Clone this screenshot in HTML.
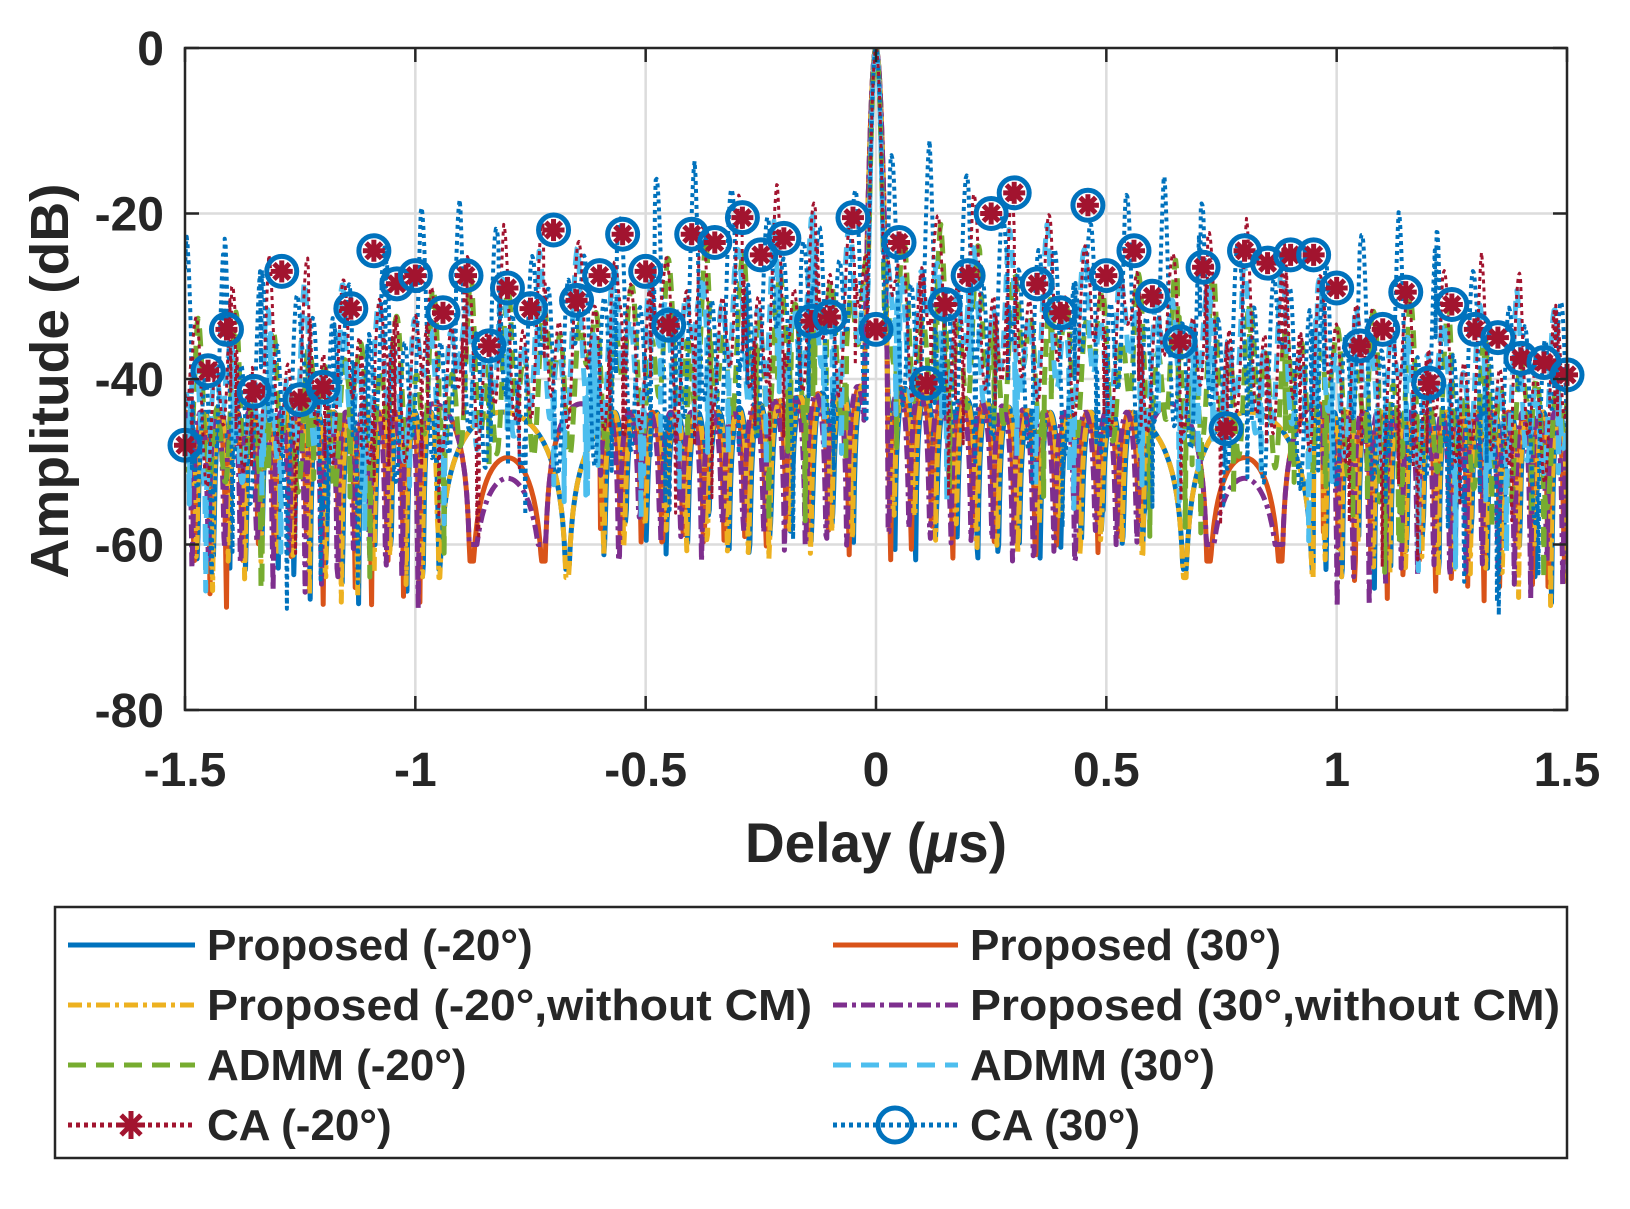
<!DOCTYPE html>
<html><head><meta charset="utf-8"><style>
html,body{margin:0;padding:0;background:#fff;}
svg text{font-family:"Liberation Sans",Arial,sans-serif;font-weight:bold;fill:#262626;}
</style></head><body>
<svg id="s" width="1630" height="1204" viewBox="0 0 1630 1204" xmlns="http://www.w3.org/2000/svg">
<rect width="1630" height="1204" fill="#fff"/>
<g id="grid" stroke="#dcdcdc" stroke-width="2.5"></g>
<defs><clipPath id="cp"><rect x="185" y="48" width="1382" height="662"/></clipPath></defs>
<g id="data" clip-path="url(#cp)"></g>
<g id="mk"></g>
<rect x="185" y="48" width="1382" height="662" fill="none" stroke="#262626" stroke-width="2.5"/>
<g id="ticks"></g>
<text x="876" y="862" font-size="56" text-anchor="middle" textLength="262" lengthAdjust="spacingAndGlyphs">Delay (<tspan font-style="italic">μ</tspan>s)</text>
<text transform="translate(68,381) rotate(-90)" font-size="54" text-anchor="middle" textLength="395" lengthAdjust="spacingAndGlyphs">Amplitude (dB)</text>
<rect x="55" y="907" width="1512" height="251" fill="#fff" stroke="#262626" stroke-width="2.5"/>
<g font-size="44">
<line x1="68" y1="945" x2="195" y2="945" stroke="#0072BD" stroke-width="5"/>
<text x="207" y="960">Proposed (-20°)</text>
<line x1="833" y1="945" x2="958" y2="945" stroke="#D95319" stroke-width="5"/>
<text x="970" y="960">Proposed (30°)</text>
<line x1="68" y1="1005" x2="195" y2="1005" stroke="#EDB120" stroke-width="5" stroke-dasharray="14 5 4 5"/>
<text x="207" y="1020" textLength="605" lengthAdjust="spacingAndGlyphs">Proposed (-20°,without CM)</text>
<line x1="833" y1="1005" x2="958" y2="1005" stroke="#7E2F8E" stroke-width="5" stroke-dasharray="14 5 4 5"/>
<text x="970" y="1020" textLength="590" lengthAdjust="spacingAndGlyphs">Proposed (30°,without CM)</text>
<line x1="68" y1="1065" x2="195" y2="1065" stroke="#77AC30" stroke-width="5" stroke-dasharray="18 10"/>
<text x="207" y="1080">ADMM (-20°)</text>
<line x1="833" y1="1065" x2="958" y2="1065" stroke="#4DBEEE" stroke-width="5" stroke-dasharray="18 10"/>
<text x="970" y="1080">ADMM (30°)</text>
<line x1="68" y1="1125" x2="195" y2="1125" stroke="#A2142F" stroke-width="5" stroke-dasharray="4 4"/>
<g id="lstar"></g>
<text x="207" y="1140">CA (-20°)</text>
<line x1="833" y1="1125" x2="958" y2="1125" stroke="#0072BD" stroke-width="5" stroke-dasharray="4 4"/>
<circle cx="895" cy="1125" r="17" fill="none" stroke="#0072BD" stroke-width="5"/>
<text x="970" y="1140">CA (30°)</text>
</g>
</svg>
<script>
var NS="http://www.w3.org/2000/svg";
function el(p,t,a){var e=document.createElementNS(NS,t);for(var k in a)e.setAttribute(k,a[k]);p.appendChild(e);return e;}
function X(d){return 185+(d+1.5)/3*1382;}
function Y(v){return 48+(-v)/80*662;}
var g=document.getElementById('grid'),tk=document.getElementById('ticks');
[-1,-0.5,0,0.5,1].forEach(function(d){el(g,'line',{x1:X(d),x2:X(d),y1:48,y2:710});});
[-20,-40,-60].forEach(function(v){el(g,'line',{x1:185,x2:1567,y1:Y(v),y2:Y(v)});});
[-1.5,-1,-0.5,0,0.5,1,1.5].forEach(function(d){var t=el(tk,'text',{x:X(d),y:786,'font-size':48,'text-anchor':'middle'});t.textContent=(d+'');
 el(tk,'line',{x1:X(d),x2:X(d),y1:48,y2:62,stroke:'#262626','stroke-width':2.5});el(tk,'line',{x1:X(d),x2:X(d),y1:710,y2:696,stroke:'#262626','stroke-width':2.5});});
[0,-20,-40,-60,-80].forEach(function(v){var t=el(tk,'text',{x:164,y:Y(v)+17,'font-size':48,'text-anchor':'end'});t.textContent=v;
 el(tk,'line',{x1:185,x2:199,y1:Y(v),y2:Y(v),stroke:'#262626','stroke-width':2.5});el(tk,'line',{x1:1567,x2:1553,y1:Y(v),y2:Y(v),stroke:'#262626','stroke-width':2.5});});
var seed=7;function R(){seed=(seed*16807)%2147483647;return seed/2147483647;}
function peak(d,w){var u=Math.abs(d)/w;return u<1?-u*u*40:-100;}
var data=document.getElementById('data');
function draw(f,col,dash,sw){var p='';for(var i=0;i<=1600;i++){var d=-1.5+3*i/1600;var v=f(d);v=Math.max(-85,Math.min(0,v));p+=(i?'L':'M')+X(d).toFixed(1)+' '+Y(v).toFixed(1);}
 el(data,'path',{d:p,fill:'none',stroke:col,'stroke-width':sw||5,'stroke-dasharray':dash||'none','stroke-linejoin':'round'});}
function L(s,depth){return 20*Math.log10(Math.max(Math.abs(s),0.002))*depth;}
function propA(shift,fl){return function(d){var ad=Math.abs(d),v;
 if(ad<0.6){var base=-44+(ad<0.35?(0.35-ad)*10:0);v=base+L(Math.sin(Math.PI*(d/0.045+shift)),0.8);v=Math.max(v,-56-R()*6);}
 else if(ad<0.95){v=-44+L(Math.sin(Math.PI*(ad-0.67)/0.28),0.7);v=Math.max(v,fl);}
 else {v=-44+L(Math.sin(Math.PI*(d/0.035+shift)),0.9);v=Math.max(v,-58-R()*10);}
 return Math.max(v,peak(d,0.025));};}
function propB(shift,low,fl){return function(d){var ad=Math.abs(d),v;
 if(ad<0.6){var base=-44+(ad<0.35?(0.35-ad)*10:0);v=base+L(Math.sin(Math.PI*(d/0.045+shift)),0.8);v=Math.max(v,-56-R()*6);}
 else if(ad<0.97){var inside=ad>0.72&&ad<0.88;v=(inside?low:-43)+L(Math.sin(Math.PI*(ad-0.72)/0.16),0.7);v=Math.max(v,fl);}
 else {v=-44+L(Math.sin(Math.PI*(d/0.035+shift)),0.9);v=Math.max(v,-58-R()*10);}
 return Math.max(v,peak(d,0.025));};}
draw(propA(0.1,-63),'#0072BD');
draw(propB(0.3,-49.5,-62),'#D95319');
draw(propA(0.15,-64),'#EDB120','14 5 4 5');
draw(propB(0.4,-52,-60),'#7E2F8E','14 5 4 5');
function noisy(base,amp){var ph=R()*10;return function(d){var ad=Math.abs(d);var b=base-ad*8;var v=b+Math.sin(d*160+ph)*amp*0.5-Math.abs(Math.sin(d*37+ph))*amp;if(R()<0.04)v-=12;return Math.max(v,peak(d,0.02));};}
draw(noisy(-26,12),'#77AC30','18 10');
draw(noisy(-24,12),'#4DBEEE','18 10');
draw(noisy(-19,18),'#0072BD','4 4',4);
draw(noisy(-21,14),'#A2142F','4 4',3);
var mk=document.getElementById('mk');
function star(p,x,y,r){for(var a=0;a<4;a++){var t=a*Math.PI/4;el(p,'line',{x1:x-r*Math.cos(t),y1:y-r*Math.sin(t),x2:x+r*Math.cos(t),y2:y+r*Math.sin(t),stroke:'#A2142F','stroke-width':5});}}
var M=[[-1.5,-48],[-1.45,-39],[-1.41,-34],[-1.35,-41.5],[-1.29,-27],[-1.25,-42.5],[-1.2,-41],[-1.14,-31.5],[-1.09,-24.5],[-1.04,-28.5],[-1,-27.5],[-0.94,-32],[-0.89,-27.5],[-0.84,-36],[-0.8,-29],[-0.75,-31.5],[-0.7,-22],[-0.65,-30.5],[-0.6,-27.5],[-0.55,-22.5],[-0.5,-27],[-0.45,-33.5],[-0.4,-22.5],[-0.35,-23.5],[-0.29,-20.5],[-0.25,-25],[-0.2,-23],[-0.14,-33],[-0.1,-32.5],[-0.05,-20.5],[0,-34],[0.05,-23.5],[0.11,-40.5],[0.15,-31],[0.2,-27.5],[0.25,-20],[0.3,-17.5],[0.35,-28.5],[0.4,-32],[0.46,-19],[0.5,-27.5],[0.56,-24.5],[0.6,-30],[0.66,-35.5],[0.71,-26.5],[0.76,-46],[0.8,-24.5],[0.85,-26],[0.9,-25],[0.95,-25],[1,-29],[1.05,-36],[1.1,-34],[1.15,-29.5],[1.2,-40.5],[1.25,-31],[1.3,-34],[1.35,-35],[1.4,-37.5],[1.45,-38],[1.5,-39.5]];
M.forEach(function(m){var x=X(m[0]),y=Y(m[1]);star(mk,x,y,11);el(mk,'circle',{cx:x,cy:y,r:15,fill:'none',stroke:'#0072BD','stroke-width':5});});
star(document.getElementById('lstar'),131,1125,14);
</script>
</body></html>
